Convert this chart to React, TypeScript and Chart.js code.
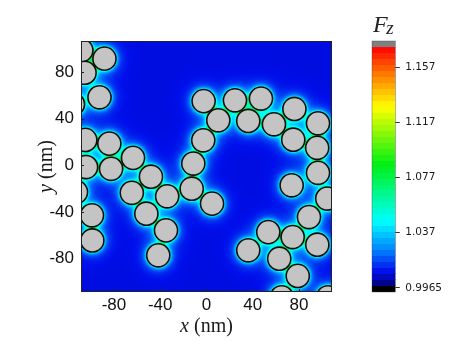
import React, { useEffect, useRef } from "react";
import { Chart, registerables } from "chart.js";

Chart.register(...registerables);

// particle centres (nm)
const circleX = [
  -108.2, -88.2, -105.4, -92.5, -115.4, -104.8, -84, -63.5, -104.1, -82.5,
  -48, -112.8, -64.6, -34, -12.8, 4.8, -99, -52, -35, -98.7,
  -41.7, -11.4, -2.8, -2.5, 10.2, 24.6, 36.1, 47.1, 58.3, 76,
  75, 96.4, 95.7, 96.4, 73.6, 104.4, 88.6, 53.4, 74.5, 95.8,
  36.1, 62.9, 78.9, 65, 105,
];
const circleY = [
  98.5, 91.4, 79.3, 58.3, 52.3, 21.8, 18.6, 6.4, -1.5, -3,
  -9.7, -22.9, -23.5, -26.5, -20, -32.8, -42.8, -41.4, -55.7, -64.3,
  -77.1, 1.5, 21.4, 55, 38.6, 55.7, 38, 57.2, 35.1, 48.3,
  22, 36, 15, -6.4, -17.1, -28.5, -44.3, -57.2, -61.4, -68,
  -72.8, -80, -94.7, -113, -113,
];
const particleRadius = 10; // nm

const xRange = [-108.5, 108.5];
const yRange = [-108.5, 106.5];
const xTicks = [-80, -40, 0, 40, 80];
const yTicks = [-80, -40, 0, 40, 80];

const colorbarTicks = [0.9965, 1.037, 1.077, 1.117, 1.157];
const colorbarLabels = ["0.9965", "1.037", "1.077", "1.117", "1.157"];
const colorLo = 0.998;
const colorHi = 1.1716;

const fieldBase = 1.0075;
const fieldNear = 0.015;
const fieldFar = 0.017;
const fieldGap = 4;
const fieldCap = 1.088;

const cmapStops: [number, number[]][] = [
  [0.0, [0, 0, 120]],
  [0.06, [0, 14, 235]],
  [0.15, [0, 130, 255]],
  [0.27, [0, 255, 255]],
  [0.51, [0, 240, 20]],
  [0.75, [255, 255, 0]],
  [0.88, [255, 128, 0]],
  [1.0, [255, 0, 0]],
];

function cmap(f: number): number[] {
  if (f <= 0) return cmapStops[0][1];
  if (f >= 1) return cmapStops[cmapStops.length - 1][1];
  for (let i = 1; i < cmapStops.length; i++) {
    const [f1, c1] = cmapStops[i];
    const [f0, c0] = cmapStops[i - 1];
    if (f <= f1) {
      const t = (f - f0) / (f1 - f0);
      return [0, 1, 2].map((k) => Math.round(c0[k] + (c1[k] - c0[k]) * t));
    }
  }
  return cmapStops[cmapStops.length - 1][1];
}

function fieldAt(x: number, y: number): number {
  let s = 0;
  const rEdge = particleRadius + 0.6;
  for (let i = 0; i < circleX.length; i++) {
    const d = Math.hypot(x - circleX[i], y - circleY[i]) - rEdge;
    const dd = d < 0 ? 0 : d;
    s += fieldNear * Math.exp(-dd / 1.3) + fieldFar * Math.exp(-dd / 4);
  }
  return Math.min(fieldCap, fieldBase + s + fieldGap * s * s);
}

const fieldPlugin = {
  id: "fieldMap",
  beforeDatasetsDraw(chart: any) {
    const { ctx, chartArea: a, scales } = chart;
    const sx = scales.x;
    const sy = scales.y;
    const w = Math.round(a.right - a.left);
    const h = Math.round(a.bottom - a.top);
    const off = document.createElement("canvas");
    off.width = w;
    off.height = h;
    const octx = off.getContext("2d")!;
    const img = octx.createImageData(w, h);
    for (let j = 0; j < h; j++) {
      const yv = sy.getValueForPixel(a.top + j + 0.5);
      for (let i = 0; i < w; i++) {
        const xv = sx.getValueForPixel(a.left + i + 0.5);
        const v = fieldAt(xv, yv);
        const c = cmap((v - colorLo) / (colorHi - colorLo));
        const p = (j * w + i) * 4;
        img.data[p] = c[0];
        img.data[p + 1] = c[1];
        img.data[p + 2] = c[2];
        img.data[p + 3] = 255;
      }
    }
    octx.putImageData(img, 0, 0);
    ctx.save();
    ctx.drawImage(off, a.left, a.top, a.right - a.left, a.bottom - a.top);
    ctx.restore();
  },
  afterDatasetsDraw(chart: any) {
    const { ctx, chartArea: a, scales } = chart;
    ctx.save();
    ctx.strokeStyle = "#222";
    ctx.lineWidth = 1;
    ctx.strokeRect(a.left + 0.5, a.top + 0.5, a.right - a.left - 1, a.bottom - a.top - 1);
    ctx.beginPath();
    xTicks.forEach((t) => {
      const px = Math.round(scales.x.getPixelForValue(t)) + 0.5;
      ctx.moveTo(px, a.bottom);
      ctx.lineTo(px, a.bottom - 3);
    });
    yTicks.forEach((t) => {
      const py = Math.round(scales.y.getPixelForValue(t)) + 0.5;
      ctx.moveTo(a.left, py);
      ctx.lineTo(a.left + 3, py);
    });
    ctx.stroke();
    ctx.restore();
  },
};

const decorPlugin = {
  id: "decor",
  afterDraw(chart: any) {
    const { ctx, chartArea: a } = chart;
    ctx.save();
    // colour bar
    const barL = a.right + 40;
    const barW = 23.3;
    const capT = 6;
    const capB = 6.7;
    const cTop = a.top + capT;
    const cBot = a.bottom - capB;
    const H = cBot - cTop;
    ctx.fillStyle = "#808080";
    ctx.fillRect(barL, a.top, barW, capT);
    ctx.fillStyle = "#000";
    ctx.fillRect(barL, cBot, barW, capB);
    const n = 40;
    for (let k = 0; k < n; k++) {
      const c = cmap((k + 0.5) / n);
      ctx.fillStyle = `rgb(${c[0]},${c[1]},${c[2]})`;
      const y1 = cBot - ((k + 1) / n) * H;
      const y0 = cBot - (k / n) * H;
      ctx.fillRect(barL, Math.floor(y1), barW, Math.ceil(y0) - Math.floor(y1));
    }
    ctx.strokeStyle = "rgba(60,60,60,0.6)";
    ctx.lineWidth = 0.6;
    ctx.strokeRect(barL, a.top, barW, a.bottom - a.top);
    // colour bar ticks and labels
    ctx.strokeStyle = "#333";
    ctx.lineWidth = 1;
    ctx.fillStyle = "#1a1a1a";
    ctx.font = "10.5px 'DejaVu Sans'";
    ctx.textAlign = "left";
    ctx.textBaseline = "middle";
    colorbarTicks.forEach((v, i) => {
      const yy = cBot - ((v - colorLo) / (colorHi - colorLo)) * H;
      ctx.beginPath();
      ctx.moveTo(barL + barW, Math.round(yy) + 0.5);
      ctx.lineTo(barL + barW + 4.5, Math.round(yy) + 0.5);
      ctx.stroke();
      ctx.fillText(colorbarLabels[i], barL + barW + 10, yy + 0.5);
    });
    // colour bar title F_z
    ctx.fillStyle = "#222";
    ctx.textBaseline = "alphabetic";
    ctx.font = "italic 24px 'Liberation Serif'";
    ctx.fillText("F", barL + 1, 31.5);
    const fw = ctx.measureText("F").width;
    ctx.font = "italic 19px 'Liberation Serif'";
    ctx.fillText("z", barL + fw - 0.5, 33.5);

    // axis titles
    const drawTitle = (cx: number, cy: number, rot: number, sym: string) => {
      ctx.save();
      ctx.translate(cx, cy);
      ctx.rotate(rot);
      ctx.font = "italic 20px 'Liberation Serif'";
      const w1 = ctx.measureText(sym).width;
      ctx.font = "20px 'Liberation Serif'";
      const w2 = ctx.measureText(" (nm)").width;
      const start = -(w1 + w2) / 2;
      ctx.textAlign = "left";
      ctx.textBaseline = "alphabetic";
      ctx.fillStyle = "#1a1a1a";
      ctx.font = "italic 20px 'Liberation Serif'";
      ctx.fillText(sym, start, 0);
      ctx.font = "20px 'Liberation Serif'";
      ctx.fillText(" (nm)", start + w1, 0);
      ctx.restore();
    };
    drawTitle((a.left + a.right) / 2, 331.5, 0, "x");
    drawTitle(51.5, (a.top + a.bottom) / 2, -Math.PI / 2, "y");
    ctx.restore();
  },
};

export default function App() {
  const ref = useRef<HTMLCanvasElement>(null);
  useEffect(() => {
    if (!ref.current) return;
    const radiusPx = (chart: any) => {
      const s = chart.scales.x;
      if (!s) return 10;
      return Math.abs(s.getPixelForValue(particleRadius) - s.getPixelForValue(0));
    };
    const chart = new Chart(ref.current, {
      type: "scatter",
      data: {
        datasets: [
          {
            data: circleX.map((x, i) => ({ x, y: circleY[i] })),
            pointRadius: (c: any) => radiusPx(c.chart),
            pointBackgroundColor: "#c4c4c4",
            pointBorderColor: "#0d0d0d",
            pointBorderWidth: 1.6,
            pointHoverRadius: (c: any) => radiusPx(c.chart),
            showLine: false,
            clip: 0,
          } as any,
        ],
      },
      options: {
        responsive: false,
        animation: false,
        events: [],
        layout: { padding: { left: 0, top: 41, right: 142, bottom: 0 } },
        plugins: {
          legend: { display: false },
          tooltip: { enabled: false },
          title: { display: false },
        },
        scales: {
          x: {
            type: "linear",
            min: xRange[0],
            max: xRange[1],
            afterBuildTicks: (s: any) => {
              s.ticks = xTicks.map((v) => ({ value: v }));
            },
            afterFit: (s: any) => {
              s.height = 59;
            },
            grid: { display: false, drawTicks: false },
            border: { display: false },
            ticks: {
              autoSkip: false,
              maxRotation: 0,
              padding: 3,
              color: "#111",
              font: { family: "'Liberation Sans'", size: 17 },
              callback: (v: any) => String(v),
            },
          },
          y: {
            type: "linear",
            min: yRange[0],
            max: yRange[1],
            afterBuildTicks: (s: any) => {
              s.ticks = yTicks.map((v) => ({ value: v }));
            },
            afterFit: (s: any) => {
              s.width = 81;
            },
            grid: { display: false, drawTicks: false },
            border: { display: false },
            ticks: {
              autoSkip: false,
              padding: 7,
              color: "#111",
              font: { family: "'Liberation Sans'", size: 17 },
              callback: (v: any) => String(v),
            },
          },
        },
      } as any,
      plugins: [fieldPlugin, decorPlugin],
    });
    return () => chart.destroy();
  }, []);
  return (
    <div style={{ position: "absolute", left: 0, top: 0, width: 474, height: 351, background: "#fff" }}>
      <canvas ref={ref} width={474} height={351} style={{ display: "block" }} />
    </div>
  );
}
